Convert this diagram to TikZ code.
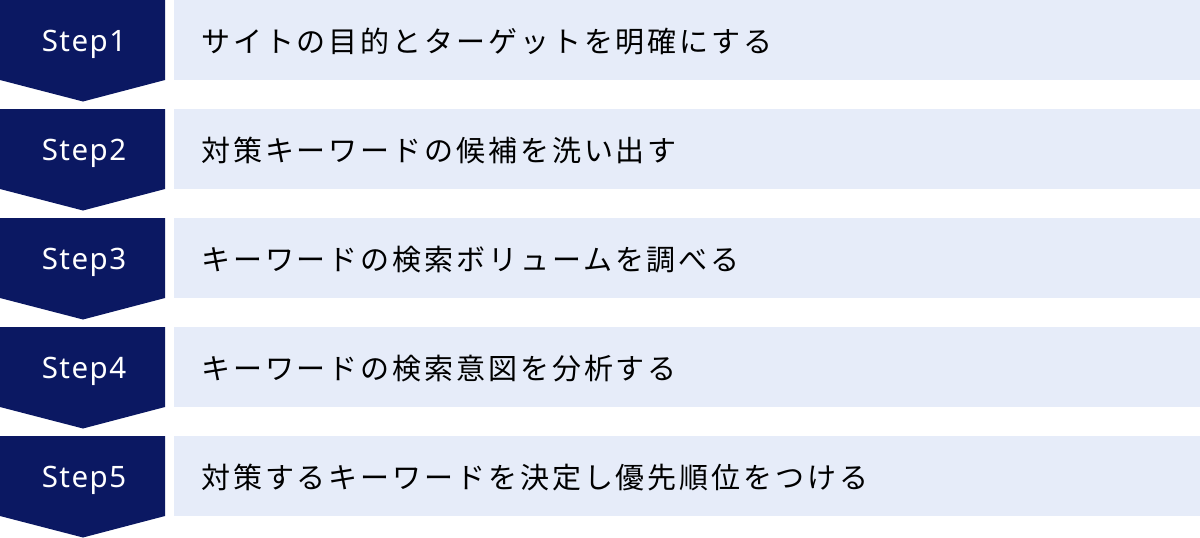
\documentclass[tikz,border=0pt]{standalone}
\usepackage{fontspec}
\setmainfont{Noto Sans}
\newfontfamily\steps[LetterSpace=5]{Noto Sans}
\newfontfamily\jp[LetterSpace=10]{Noto Sans CJK JP}
\definecolor{navy}{HTML}{0B1862}
\definecolor{pale}{HTML}{E6ECF9}
\begin{document}
\begin{tikzpicture}[x=1pt,y=-1pt,
  stepshape/.style={fill=navy,draw=none},
  bandbox/.style={fill=pale,draw=none},
  steplabel/.style={text=white,font=\steps\fontsize{29.5}{31}\selectfont,anchor=base,inner sep=0},
  bandlabel/.style={text=black,font=\jp\fontsize{29}{31}\selectfont,anchor=base west,inner sep=0}]
\useasboundingbox (0,0) rectangle (1200,538);
\foreach \i/\t in {0/{サイトの目的とターゲットを明確にする},1/{対策キーワードの候補を洗い出す},2/{キーワードの検索ボリュームを調べる},3/{キーワードの検索意図を分析する},4/{対策するキーワードを決定し優先順位をつける}}{
  \pgfmathsetmacro{\y}{\i*109}
  \fill[stepshape] (0,\y) -- (165,\y) -- (165,\y+80) -- (83,\y+101.5) -- (0,\y+80) -- cycle;
  \fill[bandbox] (174,\y) rectangle (1200,\y+80);
  \pgfmathtruncatemacro{\n}{\i+1}
  \node[steplabel] (s\n) at (84,\y+51) {Step\n};
  \node[bandlabel] (b\n) at (201,\y+52) {\t};
}
\end{tikzpicture}
\end{document}
